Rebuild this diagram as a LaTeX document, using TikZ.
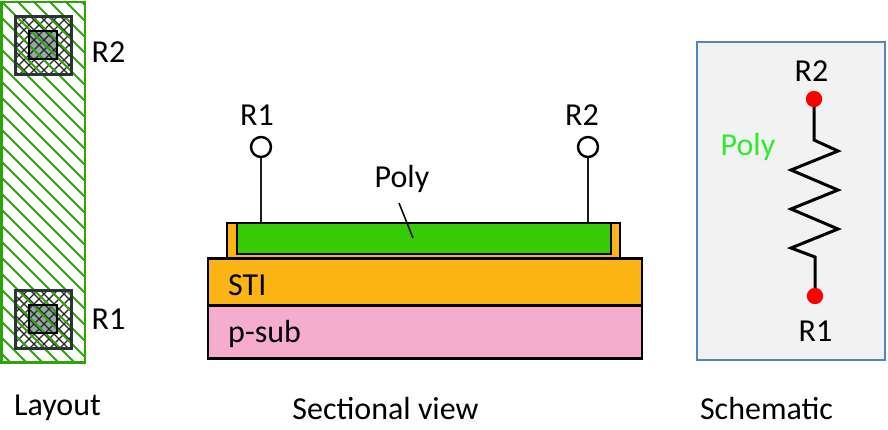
\documentclass[tikz,border=0pt]{standalone}
\usepackage{fontspec}
\setmainfont{Carlito}
\tikzset{
  x=1pt,y=-1pt,
  lbl/.style={inner sep=0pt,font=\fontsize{32}{34}\selectfont,text=black},
  layer/.style={draw=black,line width=2.2pt,inner sep=0pt,rectangle},
  pin/.style={circle,draw=black,fill=white,line width=2.4pt,minimum size=20pt,inner sep=0pt},
  wire/.style={draw=black!90,line width=2.6pt},
  dot/.style={circle,fill=red,minimum size=16pt,inner sep=0pt},
  res/.style={draw=black,line width=3pt,line join=miter},
  conthatch/.style={draw=black!85,line width=1.2pt},
  stripe/.style={draw=polygreen,line width=1.9pt},
}
\definecolor{polygreen}{HTML}{2FA30A}
\definecolor{orangeL}{HTML}{FDB515}
\definecolor{pinkL}{HTML}{F6ADCD}
\definecolor{greenL}{HTML}{37CB06}
\definecolor{frameB}{HTML}{4F86C0}
\definecolor{viaG}{HTML}{97A8A8}
\definecolor{darkE}{HTML}{2B3439}
\newcommand{\contact}[2]{%
  \fill[viaG] (29,#2) rectangle (57,#2+28);
  \begin{scope}
    \clip (15,#1) rectangle (71,#1+58);
    \foreach \k in {-70,-60,...,130} {
      \draw[conthatch] (\k,#1) -- (\k+58,#1+58);
      \draw[conthatch] (\k,#1+58) -- (\k+58,#1);
    }
  \end{scope}
}
\newcommand{\contactframe}[2]{%
  \draw[draw=black,line width=2.4pt] (29,#2) rectangle (57,#2+28);
  \draw[draw=darkE,line width=3pt] (15,#1) rectangle (71,#1+58);
}
\begin{document}
\begin{tikzpicture}
\useasboundingbox (0,0) rectangle (888,429);
% Layout
\contact{16}{31}
\contact{290}{305}
\begin{scope}
  \clip (1,2) rectangle (85,362);
  \foreach \k in {-96,-80,...,368} {
    \draw[stripe] (0,\k) -- (90,\k+90);
  }
\end{scope}
\contactframe{16}{31}
\contactframe{290}{305}
\draw[draw=polygreen,line width=2.6pt] (1.3,2) rectangle (85,362.5);
\node[lbl] (layR2) at (108.5,52) {R2};
\node[lbl] (layR1) at (108.5,319) {R1};
\node[lbl] (capL) at (57.5,408) {Layout};
% Section
\node[layer,fill=pinkL,minimum width=434pt,minimum height=53pt] (psub) at (425,332) {};
\node[layer,fill=orangeL,minimum width=434pt,minimum height=47pt] (sti) at (425,282) {};
\node[layer,fill=orangeL,minimum width=393pt,minimum height=35pt] (ox) at (423.5,240.5) {};
\node[layer,fill=greenL,minimum width=374pt,minimum height=31pt] (poly) at (424,238.5) {};
\node[lbl,anchor=west] (stiT) at (228,285) {STI};
\node[lbl,anchor=west] (subT) at (228,334) {p-sub};
\node[pin] (p1) at (261,147) {};
\node[pin] (p2) at (588,147) {};
\coordinate (p1b) at (261,223);
\coordinate (p2b) at (588,223);
\draw[wire] (p1) -- (p1b);
\draw[wire] (p2) -- (p2b);
\node[lbl] (secR1) at (257,115) {R1};
\node[lbl] (secR2) at (582,115) {R2};
\node[lbl] (polyT) at (402,179) {Poly};
\coordinate (leadA) at (399,203);
\coordinate (leadB) at (413,238);
\draw[draw=black,line width=1.5pt] (leadA) -- (leadB);
\node[lbl] (capS) at (385.5,408) {Sectional view};
% Schematic
\node[draw=frameB,fill=black!5,line width=2pt,minimum width=188pt,minimum height=318pt,inner sep=0pt] (frame) at (791,201) {};
\node[dot] (r2) at (814,99) {};
\node[dot] (r1) at (815,296) {};
\draw[res] (r2.center) -- (814,140) -- (838,151) -- (791,170) -- (838,190) -- (791,209) -- (838,229) -- (791,248) -- (815,257) -- (r1.center);
\node[dot] at (r2) {};
\node[dot] at (r1) {};
\node[lbl] (schR2) at (811.5,71) {R2};
\node[lbl] (schR1) at (815.5,331) {R1};
\node[lbl,text={rgb,255:red,46;green,235;blue,46}] (schP) at (748,147) {Poly};
\node[lbl] (capC) at (766.5,408) {Schematic};
\end{tikzpicture}
\end{document}
